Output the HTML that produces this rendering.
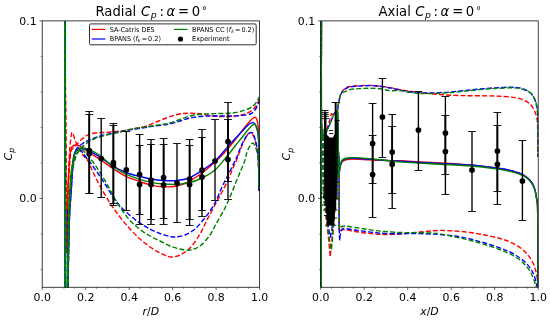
<!DOCTYPE html>
<html lang="en">
<head>
<meta charset="utf-8">
<title>Radial and Axial Cp</title>
<style>
html,body{margin:0;padding:0;background:#fff;}
body{width:550px;height:320px;overflow:hidden;}
svg{display:block;}
text{font-family:"DejaVu Sans","Liberation Sans",sans-serif;fill:#000;}
.tk{font-size:11.1px;}
.lb{font-size:11.1px;}
.tt{font-size:13.2px;}
.lg{font-size:6.8px;}
</style>
</head>
<body>
<svg width="550" height="320" viewBox="0 0 550 320">
<rect width="550" height="320" fill="#fff"/>
<defs>
<clipPath id="cl"><rect x="42.2" y="20.9" width="217.40000000000003" height="266.35"/></clipPath>
<clipPath id="cr"><rect x="320.7" y="20.9" width="217.50000000000006" height="266.35"/></clipPath>
</defs>
<g clip-path="url(#cl)">
<path d="M64.80,14.00 C64.87,36.67 65.00,114.00 65.20,150.00 C65.40,186.00 65.75,212.92 66.00,230.00 C66.25,247.08 66.58,248.75 66.70,252.50 C66.76,249.08 66.94,238.58 67.05,232.00 C67.16,225.42 67.21,219.17 67.35,213.00 C67.49,206.83 67.73,200.00 67.90,195.00 C68.08,190.00 68.13,188.83 68.40,183.00 C68.67,177.17 69.13,165.33 69.50,160.00 C69.87,154.67 70.18,153.20 70.60,151.00 C71.02,148.80 71.10,147.80 72.00,146.80 C72.90,145.80 74.67,145.10 76.00,145.00 C77.33,144.90 77.67,144.87 80.00,146.20 C82.33,147.53 86.67,150.78 90.00,153.00 C93.33,155.22 96.17,156.92 100.00,159.50 C103.83,162.08 108.67,165.70 113.00,168.50 C117.33,171.30 121.50,174.12 126.00,176.30 C130.50,178.48 135.83,180.13 140.00,181.60 C144.17,183.07 147.17,184.23 151.00,185.10 C154.83,185.97 158.67,186.65 163.00,186.80 C167.33,186.95 172.67,186.92 177.00,186.00 C181.33,185.08 184.83,183.47 189.00,181.30 C193.17,179.13 197.67,176.22 202.00,173.00 C206.33,169.78 211.17,165.50 215.00,162.00 C218.83,158.50 221.67,155.67 225.00,152.00 C228.33,148.33 231.67,144.17 235.00,140.00 C238.33,135.83 242.50,130.17 245.00,127.00 C247.50,123.83 248.67,122.47 250.00,121.00 C251.33,119.53 252.22,118.82 253.00,118.20 C253.78,117.58 254.17,117.30 254.70,117.30 C255.23,117.30 255.73,117.42 256.20,118.20 C256.67,118.98 257.13,120.03 257.50,122.00 C257.87,123.97 258.17,125.33 258.40,130.00 C258.63,134.67 258.78,139.83 258.90,150.00 C259.02,160.17 259.07,184.17 259.10,191.00" fill="none" stroke="#ff0000" stroke-width="1.4" stroke-linejoin="round"/>
<path d="M64.90,14.00 C64.95,21.67 65.05,40.67 65.20,60.00 C65.35,79.33 65.57,106.67 65.80,130.00 C66.03,153.33 66.42,179.67 66.60,200.00 C66.78,220.33 66.85,243.33 66.90,252.00 C66.93,248.67 67.02,238.50 67.10,232.00 C67.18,225.50 67.26,219.17 67.40,213.00 C67.54,206.83 67.78,200.00 67.95,195.00 C68.12,190.00 68.24,187.17 68.45,183.00 C68.66,178.83 68.91,174.17 69.20,170.00 C69.49,165.83 69.82,161.33 70.20,158.00 C70.58,154.67 70.53,152.08 71.50,150.00 C72.47,147.92 74.25,147.33 76.00,145.50 C77.75,143.67 80.00,140.78 82.00,139.00 C84.00,137.22 85.83,135.80 88.00,134.80 C90.17,133.80 92.17,133.38 95.00,133.00 C97.83,132.62 100.83,132.83 105.00,132.50 C109.17,132.17 115.00,131.67 120.00,131.00 C125.00,130.33 130.83,129.25 135.00,128.50 C139.17,127.75 141.67,127.50 145.00,126.50 C148.33,125.50 151.67,123.83 155.00,122.50 C158.33,121.17 161.67,119.75 165.00,118.50 C168.33,117.25 172.00,115.83 175.00,115.00 C178.00,114.17 180.50,113.78 183.00,113.50 C185.50,113.22 187.17,113.25 190.00,113.30 C192.83,113.35 196.67,113.43 200.00,113.80 C203.33,114.17 206.67,115.05 210.00,115.50 C213.33,115.95 216.67,116.33 220.00,116.50 C223.33,116.67 226.67,116.70 230.00,116.50 C233.33,116.30 237.33,115.80 240.00,115.30 C242.67,114.80 244.00,114.30 246.00,113.50 C248.00,112.70 250.33,111.75 252.00,110.50 C253.67,109.25 254.92,107.58 256.00,106.00 C257.08,104.42 257.90,102.50 258.50,101.00 C259.10,99.50 259.42,97.67 259.60,97.00" fill="none" stroke="#ff0000" stroke-width="1.4" stroke-dasharray="5 2.2" stroke-dashoffset="0" stroke-linejoin="round"/>
<path d="M64.90,14.00 C64.95,21.67 65.05,40.67 65.20,60.00 C65.35,79.33 65.57,106.67 65.80,130.00 C66.03,153.33 66.42,179.67 66.60,200.00 C66.78,220.33 66.85,243.33 66.90,252.00 C66.92,248.67 66.93,238.50 67.00,232.00 C67.07,225.50 67.17,219.17 67.30,213.00 C67.43,206.83 67.65,200.00 67.80,195.00 C67.95,190.00 68.05,187.17 68.20,183.00 C68.35,178.83 68.50,174.67 68.70,170.00 C68.90,165.33 69.17,159.17 69.40,155.00 C69.63,150.83 69.78,148.33 70.10,145.00 C70.42,141.67 70.93,137.08 71.30,135.00 C71.67,132.92 71.93,132.50 72.30,132.50 C72.67,132.50 73.05,133.75 73.50,135.00 C73.95,136.25 74.33,138.25 75.00,140.00 C75.67,141.75 76.17,143.00 77.50,145.50 C78.83,148.00 81.25,152.42 83.00,155.00 C84.75,157.58 86.33,158.17 88.00,161.00 C89.67,163.83 91.00,167.83 93.00,172.00 C95.00,176.17 97.17,180.83 100.00,186.00 C102.83,191.17 106.67,197.83 110.00,203.00 C113.33,208.17 116.67,212.67 120.00,217.00 C123.33,221.33 126.67,225.33 130.00,229.00 C133.33,232.67 136.67,236.00 140.00,239.00 C143.33,242.00 146.67,244.67 150.00,247.00 C153.33,249.33 157.00,251.42 160.00,253.00 C163.00,254.58 166.00,255.83 168.00,256.50 C170.00,257.17 170.00,257.25 172.00,257.00 C174.00,256.75 177.00,256.50 180.00,255.00 C183.00,253.50 186.67,251.50 190.00,248.00 C193.33,244.50 197.17,238.67 200.00,234.00 C202.83,229.33 204.50,224.83 207.00,220.00 C209.50,215.17 212.50,209.67 215.00,205.00 C217.50,200.33 219.83,196.17 222.00,192.00 C224.17,187.83 226.17,184.00 228.00,180.00 C229.83,176.00 231.50,171.50 233.00,168.00 C234.50,164.50 235.67,162.33 237.00,159.00 C238.33,155.67 239.67,151.33 241.00,148.00 C242.33,144.67 243.75,141.42 245.00,139.00 C246.25,136.58 247.42,134.50 248.50,133.50 C249.58,132.50 250.58,132.42 251.50,133.00 C252.42,133.58 253.25,135.17 254.00,137.00 C254.75,138.83 255.37,140.83 256.00,144.00 C256.63,147.17 257.33,150.83 257.80,156.00 C258.27,161.17 258.58,169.17 258.80,175.00 C259.02,180.83 259.05,188.33 259.10,191.00" fill="none" stroke="#ff0000" stroke-width="1.4" stroke-dasharray="5 2.2" stroke-dashoffset="0" stroke-linejoin="round"/>
<path d="M64.80,14.00 L65.20,293.25 L67.80,293.25 C67.90,286.04 68.15,263.04 68.40,250.00 C68.65,236.96 69.03,223.00 69.30,215.00 C69.57,207.00 69.72,207.17 70.00,202.00 C70.28,196.83 70.67,189.33 71.00,184.00 C71.33,178.67 71.53,174.67 72.00,170.00 C72.47,165.33 73.13,159.25 73.80,156.00 C74.47,152.75 75.13,151.73 76.00,150.50 C76.87,149.27 77.50,148.82 79.00,148.60 C80.50,148.38 82.83,148.55 85.00,149.20 C87.17,149.85 89.50,151.20 92.00,152.50 C94.50,153.80 96.50,154.75 100.00,157.00 C103.50,159.25 108.67,163.42 113.00,166.00 C117.33,168.58 121.50,170.75 126.00,172.50 C130.50,174.25 135.83,175.42 140.00,176.50 C144.17,177.58 147.17,178.33 151.00,179.00 C154.83,179.67 158.67,180.25 163.00,180.50 C167.33,180.75 172.67,180.92 177.00,180.50 C181.33,180.08 184.83,179.67 189.00,178.00 C193.17,176.33 197.67,173.33 202.00,170.50 C206.33,167.67 211.17,164.42 215.00,161.00 C218.83,157.58 222.17,153.17 225.00,150.00 C227.83,146.83 229.50,144.75 232.00,142.00 C234.50,139.25 237.33,136.30 240.00,133.50 C242.67,130.70 246.17,126.92 248.00,125.20 C249.83,123.48 250.17,123.63 251.00,123.20 C251.83,122.77 252.33,122.47 253.00,122.60 C253.67,122.73 254.33,122.93 255.00,124.00 C255.67,125.07 256.43,126.67 257.00,129.00 C257.57,131.33 258.08,132.83 258.40,138.00 C258.72,143.17 258.78,151.17 258.90,160.00 C259.02,168.83 259.07,185.83 259.10,191.00" fill="none" stroke="#0000ff" stroke-width="1.4" stroke-linejoin="round"/>
<path d="M64.80,14.00 L65.30,293.25 L68.00,293.25 C68.10,286.04 68.33,263.04 68.60,250.00 C68.87,236.96 69.27,223.33 69.60,215.00 C69.93,206.67 70.25,205.17 70.60,200.00 C70.95,194.83 71.37,189.00 71.70,184.00 C72.03,179.00 72.22,174.33 72.60,170.00 C72.98,165.67 73.43,161.37 74.00,158.00 C74.57,154.63 74.67,152.13 76.00,149.80 C77.33,147.47 80.00,145.53 82.00,144.00 C84.00,142.47 85.00,141.93 88.00,140.60 C91.00,139.27 95.50,137.30 100.00,136.00 C104.50,134.70 110.83,133.67 115.00,132.80 C119.17,131.93 121.67,131.43 125.00,130.80 C128.33,130.17 131.67,129.55 135.00,129.00 C138.33,128.45 141.67,128.00 145.00,127.50 C148.33,127.00 151.67,126.45 155.00,126.00 C158.33,125.55 162.50,125.13 165.00,124.80 C167.50,124.47 167.50,124.63 170.00,124.00 C172.50,123.37 176.67,122.00 180.00,121.00 C183.33,120.00 186.67,118.75 190.00,118.00 C193.33,117.25 196.67,116.83 200.00,116.50 C203.33,116.17 206.67,116.08 210.00,116.00 C213.33,115.92 216.67,116.00 220.00,116.00 C223.33,116.00 226.67,116.07 230.00,116.00 C233.33,115.93 236.67,115.93 240.00,115.60 C243.33,115.27 247.50,114.93 250.00,114.00 C252.50,113.07 253.67,111.58 255.00,110.00 C256.33,108.42 257.27,106.00 258.00,104.50 C258.73,103.00 259.17,101.58 259.40,101.00" fill="none" stroke="#0000ff" stroke-width="1.4" stroke-dasharray="5 2.2" stroke-dashoffset="0" stroke-linejoin="round"/>
<path d="M64.80,14.00 L65.30,293.25 L67.20,293.25 L67.60,208.50 L68.00,293.25 C68.10,286.04 68.33,263.04 68.60,250.00 C68.87,236.96 69.27,223.33 69.60,215.00 C69.93,206.67 70.25,205.17 70.60,200.00 C70.95,194.83 71.33,189.33 71.70,184.00 C72.07,178.67 72.33,172.67 72.80,168.00 C73.27,163.33 73.88,158.92 74.50,156.00 C75.12,153.08 75.92,151.67 76.50,150.50 C77.08,149.33 77.42,149.12 78.00,149.00 C78.58,148.88 79.17,149.13 80.00,149.80 C80.83,150.47 81.67,151.30 83.00,153.00 C84.33,154.70 86.67,158.25 88.00,160.00 C89.33,161.75 89.50,161.50 91.00,163.50 C92.50,165.50 94.67,168.58 97.00,172.00 C99.33,175.42 102.33,179.83 105.00,184.00 C107.67,188.17 110.50,193.33 113.00,197.00 C115.50,200.67 117.17,202.92 120.00,206.00 C122.83,209.08 126.67,212.67 130.00,215.50 C133.33,218.33 136.67,220.75 140.00,223.00 C143.33,225.25 146.67,227.25 150.00,229.00 C153.33,230.75 156.67,232.25 160.00,233.50 C163.33,234.75 167.50,235.92 170.00,236.50 C172.50,237.08 172.50,237.25 175.00,237.00 C177.50,236.75 181.67,236.33 185.00,235.00 C188.33,233.67 191.83,231.67 195.00,229.00 C198.17,226.33 201.50,222.00 204.00,219.00 C206.50,216.00 208.00,214.00 210.00,211.00 C212.00,208.00 214.00,205.00 216.00,201.00 C218.00,197.00 220.00,191.33 222.00,187.00 C224.00,182.67 226.00,179.00 228.00,175.00 C230.00,171.00 232.67,165.67 234.00,163.00 C235.33,160.33 235.00,161.33 236.00,159.00 C237.00,156.67 238.67,152.17 240.00,149.00 C241.33,145.83 242.67,142.42 244.00,140.00 C245.33,137.58 246.83,135.75 248.00,134.50 C249.17,133.25 250.08,132.58 251.00,132.50 C251.92,132.42 252.83,132.92 253.50,134.00 C254.17,135.08 254.50,137.17 255.00,139.00 C255.50,140.83 256.00,142.17 256.50,145.00 C257.00,147.83 257.60,151.00 258.00,156.00 C258.40,161.00 258.72,169.08 258.90,175.00 C259.08,180.92 259.07,188.75 259.10,191.50" fill="none" stroke="#0000ff" stroke-width="1.4" stroke-dasharray="5 2.2" stroke-dashoffset="0" stroke-linejoin="round"/>
<path d="M64.75,14.00 L65.00,293.25 L67.30,293.25 C67.40,286.04 67.68,263.04 67.90,250.00 C68.12,236.96 68.40,223.33 68.60,215.00 C68.80,206.67 68.83,205.17 69.10,200.00 C69.37,194.83 69.85,188.67 70.20,184.00 C70.55,179.33 70.70,176.00 71.20,172.00 C71.70,168.00 72.52,163.17 73.20,160.00 C73.88,156.83 74.50,154.73 75.30,153.00 C76.10,151.27 77.22,150.33 78.00,149.60 C78.78,148.87 79.00,148.87 80.00,148.60 C81.00,148.33 82.33,147.77 84.00,148.00 C85.67,148.23 87.33,148.75 90.00,150.00 C92.67,151.25 96.17,152.75 100.00,155.50 C103.83,158.25 108.67,163.38 113.00,166.50 C117.33,169.62 121.50,172.05 126.00,174.20 C130.50,176.35 135.83,178.03 140.00,179.40 C144.17,180.77 147.17,181.63 151.00,182.40 C154.83,183.17 158.67,183.67 163.00,184.00 C167.33,184.33 172.67,184.60 177.00,184.40 C181.33,184.20 184.83,183.87 189.00,182.80 C193.17,181.73 197.67,180.13 202.00,178.00 C206.33,175.87 210.67,173.83 215.00,170.00 C219.33,166.17 224.67,159.00 228.00,155.00 C231.33,151.00 232.67,148.92 235.00,146.00 C237.33,143.08 240.00,140.00 242.00,137.50 C244.00,135.00 245.50,132.83 247.00,131.00 C248.50,129.17 249.92,127.57 251.00,126.50 C252.08,125.43 252.83,124.93 253.50,124.60 C254.17,124.27 254.50,124.10 255.00,124.50 C255.50,124.90 256.00,125.58 256.50,127.00 C257.00,128.42 257.60,129.83 258.00,133.00 C258.40,136.17 258.72,136.83 258.90,146.00 C259.08,155.17 259.07,181.00 259.10,188.00" fill="none" stroke="#008000" stroke-width="1.4" stroke-linejoin="round"/>
<path d="M64.90,14.00 C64.98,33.33 65.23,83.46 65.35,130.00 C65.47,176.54 65.56,266.04 65.60,293.25 L68.00,293.25 C68.10,286.04 68.37,263.04 68.60,250.00 C68.83,236.96 69.17,223.33 69.40,215.00 C69.63,206.67 69.73,205.17 70.00,200.00 C70.27,194.83 70.67,188.67 71.00,184.00 C71.33,179.33 71.53,175.33 72.00,172.00 C72.47,168.67 73.05,166.83 73.80,164.00 C74.55,161.17 75.47,157.42 76.50,155.00 C77.53,152.58 78.58,151.25 80.00,149.50 C81.42,147.75 82.50,146.33 85.00,144.50 C87.50,142.67 90.83,140.20 95.00,138.50 C99.17,136.80 105.83,135.38 110.00,134.30 C114.17,133.22 117.50,132.63 120.00,132.00 C122.50,131.37 122.50,131.08 125.00,130.50 C127.50,129.92 131.67,129.08 135.00,128.50 C138.33,127.92 141.67,127.50 145.00,127.00 C148.33,126.50 151.67,126.00 155.00,125.50 C158.33,125.00 162.50,124.42 165.00,124.00 C167.50,123.58 167.50,123.75 170.00,123.00 C172.50,122.25 176.67,120.67 180.00,119.50 C183.33,118.33 186.67,116.87 190.00,116.00 C193.33,115.13 196.67,114.67 200.00,114.30 C203.33,113.93 206.67,113.93 210.00,113.80 C213.33,113.67 216.67,113.58 220.00,113.50 C223.33,113.42 226.67,113.63 230.00,113.30 C233.33,112.97 236.67,112.38 240.00,111.50 C243.33,110.62 247.50,109.25 250.00,108.00 C252.50,106.75 253.67,105.42 255.00,104.00 C256.33,102.58 257.23,100.75 258.00,99.50 C258.77,98.25 259.33,97.00 259.60,96.50" fill="none" stroke="#008000" stroke-width="1.4" stroke-dasharray="5 2.2" stroke-dashoffset="3.6" stroke-linejoin="round"/>
<path d="M64.90,14.00 C64.98,33.33 65.23,83.46 65.35,130.00 C65.47,176.54 65.56,266.04 65.60,293.25 L68.00,293.25 C68.10,286.04 68.37,263.04 68.60,250.00 C68.83,236.96 69.17,223.33 69.40,215.00 C69.63,206.67 69.73,205.17 70.00,200.00 C70.27,194.83 70.63,189.00 71.00,184.00 C71.37,179.00 71.70,173.67 72.20,170.00 C72.70,166.33 73.37,164.50 74.00,162.00 C74.63,159.50 75.17,156.83 76.00,155.00 C76.83,153.17 78.17,151.87 79.00,151.00 C79.83,150.13 80.33,149.93 81.00,149.80 C81.67,149.67 81.83,149.17 83.00,150.20 C84.17,151.23 86.33,154.03 88.00,156.00 C89.67,157.97 91.17,159.50 93.00,162.00 C94.83,164.50 96.67,167.33 99.00,171.00 C101.33,174.67 104.33,179.33 107.00,184.00 C109.67,188.67 112.50,194.67 115.00,199.00 C117.50,203.33 119.50,206.42 122.00,210.00 C124.50,213.58 127.00,217.25 130.00,220.50 C133.00,223.75 136.67,226.92 140.00,229.50 C143.33,232.08 146.67,234.08 150.00,236.00 C153.33,237.92 156.67,239.33 160.00,241.00 C163.33,242.67 166.67,244.67 170.00,246.00 C173.33,247.33 176.67,248.33 180.00,249.00 C183.33,249.67 186.67,250.50 190.00,250.00 C193.33,249.50 196.67,248.50 200.00,246.00 C203.33,243.50 207.33,238.67 210.00,235.00 C212.67,231.33 213.67,228.17 216.00,224.00 C218.33,219.83 221.67,214.50 224.00,210.00 C226.33,205.50 228.00,201.67 230.00,197.00 C232.00,192.33 234.17,186.50 236.00,182.00 C237.83,177.50 239.50,173.67 241.00,170.00 C242.50,166.33 244.00,163.00 245.00,160.00 C246.00,157.00 246.17,154.33 247.00,152.00 C247.83,149.67 249.00,147.50 250.00,146.00 C251.00,144.50 252.17,143.00 253.00,143.00 C253.83,143.00 254.33,144.50 255.00,146.00 C255.67,147.50 256.43,149.33 257.00,152.00 C257.57,154.67 258.05,156.33 258.40,162.00 C258.75,167.67 258.98,182.00 259.10,186.00" fill="none" stroke="#008000" stroke-width="1.4" stroke-dasharray="5 2.2" stroke-dashoffset="3.6" stroke-linejoin="round"/>
</g>
<path d="M89.3,111.0V193.3" stroke="#000000" stroke-width="1.35" fill="none"/>
<path d="M85.4,111.5H93.2" stroke="#000000" stroke-width="0.9" fill="none"/>
<path d="M85.4,193.5H93.2" stroke="#000000" stroke-width="0.9" fill="none"/>
<path d="M89.3,114.0V193.3" stroke="#000000" stroke-width="1.35" fill="none"/>
<path d="M85.4,114.5H93.2" stroke="#000000" stroke-width="0.9" fill="none"/>
<path d="M85.4,193.5H93.2" stroke="#000000" stroke-width="0.9" fill="none"/>
<path d="M89.3,114.0V193.3" stroke="#000" stroke-width="1.7"/>
<circle cx="89.3" cy="150.6" r="2.85" fill="#000000"/>
<circle cx="89.3" cy="153.6" r="2.85" fill="#000000"/>
<path d="M101.2,118.8V197.8" stroke="#000000" stroke-width="1.35" fill="none"/>
<path d="M97.3,118.5H105.1" stroke="#000000" stroke-width="0.9" fill="none"/>
<path d="M97.3,197.5H105.1" stroke="#000000" stroke-width="0.9" fill="none"/>
<circle cx="101.2" cy="158.6" r="2.85" fill="#000000"/>
<path d="M113.4,123.3V203.5" stroke="#000000" stroke-width="1.35" fill="none"/>
<path d="M109.5,123.5H117.3" stroke="#000000" stroke-width="0.9" fill="none"/>
<path d="M109.5,203.5H117.3" stroke="#000000" stroke-width="0.9" fill="none"/>
<path d="M113.4,125.5V205.2" stroke="#000000" stroke-width="1.35" fill="none"/>
<path d="M109.5,125.5H117.3" stroke="#000000" stroke-width="0.9" fill="none"/>
<path d="M109.5,205.5H117.3" stroke="#000000" stroke-width="0.9" fill="none"/>
<path d="M113.4,125.5V203.5" stroke="#000" stroke-width="1.7"/>
<circle cx="113.4" cy="162.6" r="2.85" fill="#000000"/>
<circle cx="113.4" cy="165.6" r="2.85" fill="#000000"/>
<path d="M126.3,131.0V210.0" stroke="#000000" stroke-width="1.35" fill="none"/>
<path d="M122.4,131.5H130.2" stroke="#000000" stroke-width="0.9" fill="none"/>
<path d="M122.4,210.5H130.2" stroke="#000000" stroke-width="0.9" fill="none"/>
<circle cx="126.3" cy="169.8" r="2.85" fill="#000000"/>
<path d="M139.6,134.4V214.4" stroke="#000000" stroke-width="1.35" fill="none"/>
<path d="M135.7,134.5H143.5" stroke="#000000" stroke-width="0.9" fill="none"/>
<path d="M135.7,214.5H143.5" stroke="#000000" stroke-width="0.9" fill="none"/>
<path d="M139.6,145.0V224.0" stroke="#000000" stroke-width="1.35" fill="none"/>
<path d="M135.7,145.5H143.5" stroke="#000000" stroke-width="0.9" fill="none"/>
<path d="M135.7,224.5H143.5" stroke="#000000" stroke-width="0.9" fill="none"/>
<path d="M139.6,145.0V214.4" stroke="#000" stroke-width="1.7"/>
<circle cx="139.6" cy="174.5" r="2.85" fill="#000000"/>
<circle cx="139.6" cy="184.5" r="2.85" fill="#000000"/>
<path d="M151.0,139.6V219.0" stroke="#000000" stroke-width="1.35" fill="none"/>
<path d="M147.1,139.5H154.9" stroke="#000000" stroke-width="0.9" fill="none"/>
<path d="M147.1,219.5H154.9" stroke="#000000" stroke-width="0.9" fill="none"/>
<path d="M151.0,144.0V224.0" stroke="#000000" stroke-width="1.35" fill="none"/>
<path d="M147.1,144.5H154.9" stroke="#000000" stroke-width="0.9" fill="none"/>
<path d="M147.1,224.5H154.9" stroke="#000000" stroke-width="0.9" fill="none"/>
<path d="M151.0,144.0V219.0" stroke="#000" stroke-width="1.7"/>
<circle cx="151.0" cy="180.0" r="2.85" fill="#000000"/>
<circle cx="151.0" cy="184.5" r="2.85" fill="#000000"/>
<path d="M163.6,138.6V218.6" stroke="#000000" stroke-width="1.35" fill="none"/>
<path d="M159.7,138.5H167.5" stroke="#000000" stroke-width="0.9" fill="none"/>
<path d="M159.7,218.5H167.5" stroke="#000000" stroke-width="0.9" fill="none"/>
<path d="M163.6,144.4V224.0" stroke="#000000" stroke-width="1.35" fill="none"/>
<path d="M159.7,144.5H167.5" stroke="#000000" stroke-width="0.9" fill="none"/>
<path d="M159.7,224.5H167.5" stroke="#000000" stroke-width="0.9" fill="none"/>
<path d="M163.6,144.4V218.6" stroke="#000" stroke-width="1.7"/>
<circle cx="163.6" cy="177.5" r="2.85" fill="#000000"/>
<circle cx="163.6" cy="185.0" r="2.85" fill="#000000"/>
<path d="M177.0,143.4V222.4" stroke="#000000" stroke-width="1.35" fill="none"/>
<path d="M173.1,143.5H180.9" stroke="#000000" stroke-width="0.9" fill="none"/>
<path d="M173.1,222.5H180.9" stroke="#000000" stroke-width="0.9" fill="none"/>
<circle cx="177.0" cy="183.0" r="2.85" fill="#000000"/>
<path d="M189.6,139.6V219.0" stroke="#000000" stroke-width="1.35" fill="none"/>
<path d="M185.7,139.5H193.5" stroke="#000000" stroke-width="0.9" fill="none"/>
<path d="M185.7,219.5H193.5" stroke="#000000" stroke-width="0.9" fill="none"/>
<path d="M189.6,145.0V225.4" stroke="#000000" stroke-width="1.35" fill="none"/>
<path d="M185.7,145.5H193.5" stroke="#000000" stroke-width="0.9" fill="none"/>
<path d="M185.7,225.5H193.5" stroke="#000000" stroke-width="0.9" fill="none"/>
<path d="M189.6,145.0V219.0" stroke="#000" stroke-width="1.7"/>
<circle cx="189.6" cy="179.0" r="2.85" fill="#000000"/>
<circle cx="189.6" cy="184.5" r="2.85" fill="#000000"/>
<path d="M202.0,129.6V210.0" stroke="#000000" stroke-width="1.35" fill="none"/>
<path d="M198.1,129.5H205.9" stroke="#000000" stroke-width="0.9" fill="none"/>
<path d="M198.1,210.5H205.9" stroke="#000000" stroke-width="0.9" fill="none"/>
<path d="M202.0,137.0V216.6" stroke="#000000" stroke-width="1.35" fill="none"/>
<path d="M198.1,137.5H205.9" stroke="#000000" stroke-width="0.9" fill="none"/>
<path d="M198.1,216.5H205.9" stroke="#000000" stroke-width="0.9" fill="none"/>
<path d="M202.0,137.0V210.0" stroke="#000" stroke-width="1.7"/>
<circle cx="202.0" cy="170.0" r="2.85" fill="#000000"/>
<circle cx="202.0" cy="177.0" r="2.85" fill="#000000"/>
<path d="M215.0,119.8V200.0" stroke="#000000" stroke-width="1.35" fill="none"/>
<path d="M211.1,119.5H218.9" stroke="#000000" stroke-width="0.9" fill="none"/>
<path d="M211.1,200.5H218.9" stroke="#000000" stroke-width="0.9" fill="none"/>
<circle cx="215.0" cy="161.0" r="2.85" fill="#000000"/>
<path d="M228.0,102.4V181.4" stroke="#000000" stroke-width="1.35" fill="none"/>
<path d="M224.1,102.5H231.9" stroke="#000000" stroke-width="0.9" fill="none"/>
<path d="M224.1,181.5H231.9" stroke="#000000" stroke-width="0.9" fill="none"/>
<path d="M228.0,119.6V199.0" stroke="#000000" stroke-width="1.35" fill="none"/>
<path d="M224.1,119.5H231.9" stroke="#000000" stroke-width="0.9" fill="none"/>
<path d="M224.1,199.5H231.9" stroke="#000000" stroke-width="0.9" fill="none"/>
<path d="M228.0,119.6V181.4" stroke="#000" stroke-width="1.7"/>
<circle cx="228.0" cy="141.5" r="2.85" fill="#000000"/>
<circle cx="228.0" cy="159.5" r="2.85" fill="#000000"/>
<g clip-path="url(#cr)">
<path d="M321.20,293.25 L321.20,14.00 L321.40,14.00 C321.40,33.00 321.22,108.00 321.40,128.00 C321.58,148.00 321.93,132.00 322.50,134.00 C323.07,136.00 324.35,137.33 324.80,140.00 C325.25,142.67 324.33,147.33 325.20,150.00 C326.07,152.67 328.28,156.00 330.00,156.00 C331.72,156.00 334.53,155.17 335.50,150.00 C336.47,144.83 335.63,131.17 335.80,125.00 C335.97,118.83 336.22,115.25 336.50,113.00 C336.78,110.75 337.33,111.75 337.50,111.50 C337.55,114.58 337.67,123.58 337.80,130.00 C337.93,136.42 338.12,144.17 338.30,150.00 C338.48,155.83 338.78,160.67 338.90,165.00 C339.02,169.33 338.98,174.17 339.00,176.00 C339.12,174.83 339.43,170.78 339.70,169.00 C339.97,167.22 340.18,166.50 340.60,165.30 C341.02,164.10 341.47,162.68 342.20,161.80 C342.93,160.92 343.70,160.43 345.00,160.00 C346.30,159.57 347.50,159.30 350.00,159.20 C352.50,159.10 355.00,159.20 360.00,159.40 C365.00,159.60 373.33,160.17 380.00,160.40 C386.67,160.63 393.33,160.53 400.00,160.80 C406.67,161.07 413.33,161.63 420.00,162.00 C426.67,162.37 433.33,162.65 440.00,163.00 C446.67,163.35 453.33,163.62 460.00,164.12 C466.67,164.62 473.33,165.27 480.00,166.00 C486.67,166.73 495.00,167.75 500.00,168.50 C505.00,169.25 506.67,169.67 510.00,170.50 C513.33,171.33 517.17,172.33 520.00,173.50 C522.83,174.67 525.00,175.92 527.00,177.50 C529.00,179.08 530.67,180.92 532.00,183.00 C533.33,185.08 534.20,187.17 535.00,190.00 C535.80,192.83 536.35,196.00 536.80,200.00 C537.25,204.00 537.49,198.46 537.70,214.00 C537.91,229.54 537.99,280.04 538.05,293.25" fill="none" stroke="#ff0000" stroke-width="1.4" stroke-linejoin="round"/>
<path d="M321.20,293.25 L321.20,14.00 L321.40,14.00 C321.40,33.00 321.22,108.00 321.40,128.00 C321.58,148.00 321.98,132.67 322.50,134.00 C323.02,135.33 323.92,136.50 324.50,136.00 C325.08,135.50 325.58,132.25 326.00,131.00 C326.42,129.75 326.45,130.00 327.00,128.50 C327.55,127.00 328.58,124.42 329.30,122.00 C330.02,119.58 330.77,115.25 331.30,114.00 C331.83,112.75 332.05,114.60 332.50,114.50 C332.95,114.40 333.33,113.82 334.00,113.40 C334.67,112.98 335.90,112.57 336.50,112.00 C337.10,111.43 337.25,111.50 337.60,110.00 C337.95,108.50 338.23,105.08 338.60,103.00 C338.97,100.92 339.37,99.17 339.80,97.50 C340.23,95.83 340.33,94.50 341.20,93.00 C342.07,91.50 343.53,89.58 345.00,88.50 C346.47,87.42 347.50,86.98 350.00,86.50 C352.50,86.02 356.67,85.78 360.00,85.60 C363.33,85.42 366.67,85.30 370.00,85.40 C373.33,85.50 376.67,85.83 380.00,86.20 C383.33,86.57 386.67,87.03 390.00,87.60 C393.33,88.17 396.67,89.00 400.00,89.60 C403.33,90.20 406.67,90.70 410.00,91.20 C413.33,91.70 416.67,92.20 420.00,92.60 C423.33,93.00 426.67,93.28 430.00,93.60 C433.33,93.92 436.67,94.23 440.00,94.50 C443.33,94.77 446.67,95.02 450.00,95.20 C453.33,95.38 456.67,95.52 460.00,95.60 C463.33,95.68 465.00,95.65 470.00,95.70 C475.00,95.75 485.00,95.80 490.00,95.90 C495.00,96.00 496.67,96.12 500.00,96.30 C503.33,96.48 507.50,96.78 510.00,97.00 C512.50,97.22 513.33,97.32 515.00,97.60 C516.67,97.88 518.33,98.20 520.00,98.70 C521.67,99.20 523.33,99.72 525.00,100.60 C526.67,101.48 528.67,102.77 530.00,104.00 C531.33,105.23 532.17,106.67 533.00,108.00 C533.83,109.33 534.40,110.50 535.00,112.00 C535.60,113.50 536.17,114.67 536.60,117.00 C537.03,119.33 537.37,119.33 537.60,126.00 C537.83,132.67 537.93,151.83 538.00,157.00" fill="none" stroke="#ff0000" stroke-width="1.4" stroke-dasharray="5 2.2" stroke-dashoffset="0" stroke-linejoin="round"/>
<path d="M321.20,293.25 L321.20,14.00 L321.40,14.00 C321.40,31.33 321.20,98.67 321.40,118.00 C321.60,137.33 322.32,123.00 322.60,130.00 C322.88,137.00 322.98,150.83 323.10,160.00 C323.22,169.17 323.18,178.83 323.30,185.00 C323.42,191.17 323.52,193.17 323.80,197.00 C324.08,200.83 324.47,203.33 325.00,208.00 C325.53,212.67 326.33,219.17 327.00,225.00 C327.67,230.83 328.47,237.70 329.00,243.00 C329.53,248.30 330.00,254.50 330.20,256.80 C330.40,254.83 330.97,249.47 331.40,245.00 C331.83,240.53 332.32,235.00 332.80,230.00 C333.28,225.00 333.77,221.67 334.30,215.00 C334.83,208.33 335.47,200.83 336.00,190.00 C336.53,179.17 337.30,162.67 337.50,150.00 C337.70,137.33 337.20,120.33 337.20,114.00 C337.20,107.67 337.45,112.33 337.50,112.00 C337.55,115.00 337.67,123.67 337.80,130.00 C337.93,136.33 338.10,144.17 338.30,150.00 C338.50,155.83 338.87,156.67 339.00,165.00 C339.13,173.33 339.08,189.00 339.10,200.00 C339.12,211.00 339.10,225.83 339.10,231.00 C339.25,231.00 339.52,231.17 340.00,231.00 C340.48,230.83 341.17,230.23 342.00,230.00 C342.83,229.77 342.83,229.35 345.00,229.60 C347.17,229.85 351.67,230.93 355.00,231.50 C358.33,232.07 361.67,232.58 365.00,233.00 C368.33,233.42 371.67,233.75 375.00,234.00 C378.33,234.25 380.83,234.50 385.00,234.50 C389.17,234.50 395.83,234.25 400.00,234.00 C404.17,233.75 406.67,233.33 410.00,233.00 C413.33,232.67 416.67,232.33 420.00,232.00 C423.33,231.67 426.67,231.27 430.00,231.00 C433.33,230.73 435.83,230.40 440.00,230.40 C444.17,230.40 450.00,230.65 455.00,231.00 C460.00,231.35 465.00,231.83 470.00,232.50 C475.00,233.17 480.00,234.00 485.00,235.00 C490.00,236.00 495.83,237.33 500.00,238.50 C504.17,239.67 506.67,240.50 510.00,242.00 C513.33,243.50 517.17,245.50 520.00,247.50 C522.83,249.50 525.00,251.75 527.00,254.00 C529.00,256.25 530.67,258.67 532.00,261.00 C533.33,263.33 534.17,265.33 535.00,268.00 C535.83,270.67 536.53,273.83 537.00,277.00 C537.47,280.17 537.67,285.33 537.80,287.00" fill="none" stroke="#ff0000" stroke-width="1.4" stroke-dasharray="5 2.2" stroke-dashoffset="0" stroke-linejoin="round"/>
<path d="M321.20,293.25 L321.20,14.00 L321.40,14.00 C321.40,33.00 321.22,108.00 321.40,128.00 C321.58,148.00 321.93,132.00 322.50,134.00 C323.07,136.00 324.35,137.33 324.80,140.00 C325.25,142.67 324.33,147.33 325.20,150.00 C326.07,152.67 328.28,156.00 330.00,156.00 C331.72,156.00 334.53,155.17 335.50,150.00 C336.47,144.83 335.63,131.17 335.80,125.00 C335.97,118.83 336.22,115.25 336.50,113.00 C336.78,110.75 337.33,111.75 337.50,111.50 C337.55,114.58 337.67,123.58 337.80,130.00 C337.93,136.42 338.12,144.17 338.30,150.00 C338.48,155.83 338.78,160.67 338.90,165.00 C339.02,169.33 338.98,174.17 339.00,176.00 C339.12,174.83 339.43,170.92 339.70,169.00 C339.97,167.08 340.18,165.83 340.60,164.50 C341.02,163.17 341.47,161.88 342.20,161.00 C342.93,160.12 343.70,159.63 345.00,159.20 C346.30,158.77 347.50,158.50 350.00,158.40 C352.50,158.30 355.00,158.33 360.00,158.60 C365.00,158.87 373.33,159.55 380.00,160.00 C386.67,160.45 393.33,160.88 400.00,161.30 C406.67,161.72 413.33,162.13 420.00,162.50 C426.67,162.87 433.33,163.17 440.00,163.50 C446.67,163.83 453.33,164.08 460.00,164.50 C466.67,164.92 473.33,165.33 480.00,166.00 C486.67,166.67 495.00,167.75 500.00,168.50 C505.00,169.25 506.67,169.67 510.00,170.50 C513.33,171.33 517.17,172.33 520.00,173.50 C522.83,174.67 525.00,175.92 527.00,177.50 C529.00,179.08 530.67,180.92 532.00,183.00 C533.33,185.08 534.20,187.17 535.00,190.00 C535.80,192.83 536.35,196.00 536.80,200.00 C537.25,204.00 537.49,198.46 537.70,214.00 C537.91,229.54 537.99,280.04 538.05,293.25" fill="none" stroke="#0000ff" stroke-width="1.4" stroke-linejoin="round"/>
<path d="M321.20,293.25 L321.20,14.00 L321.40,14.00 C321.40,33.00 321.22,108.00 321.40,128.00 C321.58,148.00 321.98,132.50 322.50,134.00 C323.02,135.50 323.92,137.17 324.50,137.00 C325.08,136.83 325.58,134.08 326.00,133.00 C326.42,131.92 326.42,131.83 327.00,130.50 C327.58,129.17 328.70,126.82 329.50,125.00 C330.30,123.18 331.13,121.27 331.80,119.60 C332.47,117.93 332.97,116.13 333.50,115.00 C334.03,113.87 334.50,113.30 335.00,112.80 C335.50,112.30 336.07,112.47 336.50,112.00 C336.93,111.53 337.25,111.50 337.60,110.00 C337.95,108.50 338.23,105.08 338.60,103.00 C338.97,100.92 339.37,99.08 339.80,97.50 C340.23,95.92 340.33,94.92 341.20,93.50 C342.07,92.08 343.53,90.08 345.00,89.00 C346.47,87.92 347.50,87.50 350.00,87.00 C352.50,86.50 356.67,86.23 360.00,86.00 C363.33,85.77 366.67,85.57 370.00,85.60 C373.33,85.63 376.67,85.80 380.00,86.20 C383.33,86.60 386.67,87.37 390.00,88.00 C393.33,88.63 396.67,89.37 400.00,90.00 C403.33,90.63 406.67,91.33 410.00,91.80 C413.33,92.27 416.67,92.60 420.00,92.80 C423.33,93.00 426.67,93.03 430.00,93.00 C433.33,92.97 436.67,92.77 440.00,92.60 C443.33,92.43 446.67,92.27 450.00,92.00 C453.33,91.73 456.67,91.33 460.00,91.00 C463.33,90.67 466.67,90.33 470.00,90.00 C473.33,89.67 476.67,89.30 480.00,89.00 C483.33,88.70 486.67,88.43 490.00,88.20 C493.33,87.97 496.67,87.77 500.00,87.60 C503.33,87.43 507.50,87.25 510.00,87.20 C512.50,87.15 513.33,87.17 515.00,87.30 C516.67,87.43 518.33,87.62 520.00,88.00 C521.67,88.38 523.33,88.85 525.00,89.60 C526.67,90.35 528.67,91.43 530.00,92.50 C531.33,93.57 532.17,94.75 533.00,96.00 C533.83,97.25 534.42,98.50 535.00,100.00 C535.58,101.50 536.08,103.00 536.50,105.00 C536.92,107.00 537.27,109.17 537.50,112.00 C537.73,114.83 537.82,114.50 537.90,122.00 C537.98,129.50 537.98,151.17 538.00,157.00" fill="none" stroke="#0000ff" stroke-width="1.4" stroke-dasharray="5 2.2" stroke-dashoffset="3.6" stroke-linejoin="round"/>
<path d="M321.20,293.25 L321.20,14.00 L321.40,14.00 C321.40,31.33 321.20,98.67 321.40,118.00 C321.60,137.33 322.32,123.00 322.60,130.00 C322.88,137.00 322.97,150.33 323.10,160.00 C323.23,169.67 323.22,181.33 323.40,188.00 C323.58,194.67 323.85,196.67 324.20,200.00 C324.55,203.33 324.95,204.33 325.50,208.00 C326.05,211.67 326.87,218.00 327.50,222.00 C328.13,226.00 328.82,229.50 329.30,232.00 C329.78,234.50 330.22,236.17 330.40,237.00 C330.57,236.17 331.00,234.50 331.40,232.00 C331.80,229.50 332.32,225.67 332.80,222.00 C333.28,218.33 333.77,215.33 334.30,210.00 C334.83,204.67 335.47,200.00 336.00,190.00 C336.53,180.00 337.30,162.67 337.50,150.00 C337.70,137.33 337.20,120.33 337.20,114.00 C337.20,107.67 337.45,112.33 337.50,112.00 C337.55,115.00 337.67,123.67 337.80,130.00 C337.93,136.33 338.10,144.17 338.30,150.00 C338.50,155.83 338.87,156.67 339.00,165.00 C339.13,173.33 339.08,190.00 339.10,200.00 C339.12,210.00 339.00,218.25 339.10,225.00 C339.20,231.75 339.60,237.92 339.70,240.50 C339.82,239.42 340.10,235.75 340.40,234.00 C340.70,232.25 341.07,230.90 341.50,230.00 C341.93,229.10 342.42,228.85 343.00,228.60 C343.58,228.35 343.00,228.27 345.00,228.50 C347.00,228.73 351.67,229.50 355.00,230.00 C358.33,230.50 361.67,231.07 365.00,231.50 C368.33,231.93 371.67,232.27 375.00,232.60 C378.33,232.93 380.83,233.30 385.00,233.50 C389.17,233.70 395.00,233.80 400.00,233.80 C405.00,233.80 410.00,233.47 415.00,233.50 C420.00,233.53 425.83,233.82 430.00,234.00 C434.17,234.18 435.83,234.27 440.00,234.60 C444.17,234.93 450.00,235.27 455.00,236.00 C460.00,236.73 465.00,237.83 470.00,239.00 C475.00,240.17 480.00,241.50 485.00,243.00 C490.00,244.50 495.83,246.50 500.00,248.00 C504.17,249.50 506.67,250.33 510.00,252.00 C513.33,253.67 517.17,256.00 520.00,258.00 C522.83,260.00 525.00,261.83 527.00,264.00 C529.00,266.17 530.67,268.67 532.00,271.00 C533.33,273.33 534.17,275.33 535.00,278.00 C535.83,280.67 536.67,285.50 537.00,287.00" fill="none" stroke="#0000ff" stroke-width="1.4" stroke-dasharray="5 2.2" stroke-dashoffset="0" stroke-linejoin="round"/>
<path d="M321.20,293.25 L321.20,14.00 L321.40,14.00 C321.40,33.00 321.22,108.00 321.40,128.00 C321.58,148.00 321.93,132.00 322.50,134.00 C323.07,136.00 324.35,137.33 324.80,140.00 C325.25,142.67 324.33,147.33 325.20,150.00 C326.07,152.67 328.28,156.00 330.00,156.00 C331.72,156.00 334.53,155.17 335.50,150.00 C336.47,144.83 335.63,131.17 335.80,125.00 C335.97,118.83 336.22,115.25 336.50,113.00 C336.78,110.75 337.33,111.75 337.50,111.50 C337.55,114.58 337.67,123.58 337.80,130.00 C337.93,136.42 338.12,144.17 338.30,150.00 C338.48,155.83 338.78,160.67 338.90,165.00 C339.02,169.33 338.98,174.17 339.00,176.00 C339.12,174.83 339.43,171.03 339.70,169.00 C339.97,166.97 340.18,165.25 340.60,163.80 C341.02,162.35 341.47,161.18 342.20,160.30 C342.93,159.42 343.70,158.93 345.00,158.50 C346.30,158.07 347.50,157.80 350.00,157.70 C352.50,157.60 355.00,157.56 360.00,157.90 C365.00,158.24 373.33,159.10 380.00,159.77 C386.67,160.43 393.33,161.34 400.00,161.90 C406.67,162.46 413.33,162.77 420.00,163.15 C426.67,163.53 433.33,163.85 440.00,164.20 C446.67,164.55 453.33,164.82 460.00,165.25 C466.67,165.68 473.33,166.12 480.00,166.80 C486.67,167.48 495.00,168.59 500.00,169.35 C505.00,170.11 506.67,170.53 510.00,171.38 C513.33,172.22 517.17,173.25 520.00,174.40 C522.83,175.55 525.00,176.72 527.00,178.26 C529.00,179.80 530.67,181.60 532.00,183.66 C533.33,185.72 534.20,187.81 535.00,190.60 C535.80,193.39 536.35,196.44 536.80,200.38 C537.25,204.33 537.49,198.76 537.70,214.28 C537.91,229.79 537.99,280.28 538.05,293.48" fill="none" stroke="#008000" stroke-width="1.4" stroke-linejoin="round"/>
<path d="M321.20,293.25 L321.20,14.00 L321.40,14.00 C321.40,33.00 321.22,108.00 321.40,128.00 C321.58,148.00 321.98,132.50 322.50,134.00 C323.02,135.50 323.92,137.17 324.50,137.00 C325.08,136.83 325.58,134.08 326.00,133.00 C326.42,131.92 326.42,131.83 327.00,130.50 C327.58,129.17 328.70,126.82 329.50,125.00 C330.30,123.18 331.13,121.27 331.80,119.60 C332.47,117.93 332.97,116.13 333.50,115.00 C334.03,113.87 334.50,113.30 335.00,112.80 C335.50,112.30 336.07,112.47 336.50,112.00 C336.93,111.53 337.25,111.50 337.60,110.00 C337.95,108.50 338.23,105.08 338.60,103.00 C338.97,100.92 339.37,99.08 339.80,97.50 C340.23,95.92 340.33,94.48 341.20,93.50 C342.07,92.52 343.53,92.25 345.00,91.60 C346.47,90.95 347.50,90.10 350.00,89.60 C352.50,89.10 356.67,88.83 360.00,88.60 C363.33,88.37 366.67,88.17 370.00,88.20 C373.33,88.23 376.67,88.40 380.00,88.80 C383.33,89.20 386.67,90.30 390.00,90.60 C393.33,90.90 396.67,90.30 400.00,90.60 C403.33,90.90 406.67,91.93 410.00,92.40 C413.33,92.87 416.67,93.20 420.00,93.40 C423.33,93.60 426.67,93.63 430.00,93.60 C433.33,93.57 436.67,93.37 440.00,93.20 C443.33,93.03 446.67,92.87 450.00,92.60 C453.33,92.33 456.67,91.93 460.00,91.60 C463.33,91.27 466.67,90.93 470.00,90.60 C473.33,90.27 476.67,89.90 480.00,89.60 C483.33,89.30 486.67,89.03 490.00,88.80 C493.33,88.57 496.67,88.37 500.00,88.20 C503.33,88.03 507.50,87.85 510.00,87.80 C512.50,87.75 513.33,87.77 515.00,87.90 C516.67,88.03 518.33,88.22 520.00,88.60 C521.67,88.98 523.33,89.55 525.00,90.20 C526.67,90.85 528.67,91.53 530.00,92.50 C531.33,93.47 532.17,94.75 533.00,96.00 C533.83,97.25 534.42,98.50 535.00,100.00 C535.58,101.50 536.08,103.00 536.50,105.00 C536.92,107.00 537.27,109.17 537.50,112.00 C537.73,114.83 537.82,114.50 537.90,122.00 C537.98,129.50 537.98,151.17 538.00,157.00" fill="none" stroke="#008000" stroke-width="1.4" stroke-dasharray="5 2.2" stroke-dashoffset="0" stroke-linejoin="round"/>
<path d="M321.20,293.25 L321.20,14.00 L321.40,14.00 C321.40,31.33 321.20,98.67 321.40,118.00 C321.60,137.33 322.32,123.00 322.60,130.00 C322.88,137.00 322.97,150.33 323.10,160.00 C323.23,169.67 323.22,181.33 323.40,188.00 C323.58,194.67 323.85,196.33 324.20,200.00 C324.55,203.67 324.95,205.67 325.50,210.00 C326.05,214.33 326.83,221.00 327.50,226.00 C328.17,231.00 328.85,236.00 329.50,240.00 C330.15,244.00 331.08,248.33 331.40,250.00 C331.57,248.33 332.05,243.67 332.40,240.00 C332.75,236.33 333.13,232.67 333.50,228.00 C333.87,223.33 334.18,218.33 334.60,212.00 C335.02,205.67 335.52,200.33 336.00,190.00 C336.48,179.67 337.30,162.67 337.50,150.00 C337.70,137.33 337.20,120.33 337.20,114.00 C337.20,107.67 337.45,112.33 337.50,112.00 C337.55,115.00 337.67,123.67 337.80,130.00 C337.93,136.33 338.10,144.17 338.30,150.00 C338.50,155.83 338.87,156.67 339.00,165.00 C339.13,173.33 339.08,189.33 339.10,200.00 C339.12,210.67 339.10,224.17 339.10,229.00 C339.25,228.83 339.52,228.42 340.00,228.00 C340.48,227.58 341.17,226.83 342.00,226.50 C342.83,226.17 342.83,225.83 345.00,226.00 C347.17,226.17 351.67,227.00 355.00,227.50 C358.33,228.00 361.67,228.50 365.00,229.00 C368.33,229.50 371.67,230.08 375.00,230.50 C378.33,230.92 380.83,231.17 385.00,231.50 C389.17,231.83 395.00,232.32 400.00,232.50 C405.00,232.68 410.00,232.52 415.00,232.60 C420.00,232.68 425.83,232.80 430.00,233.00 C434.17,233.20 435.83,233.13 440.00,233.80 C444.17,234.47 450.00,235.93 455.00,237.00 C460.00,238.07 465.00,238.93 470.00,240.20 C475.00,241.47 480.00,243.03 485.00,244.60 C490.00,246.17 495.83,248.03 500.00,249.60 C504.17,251.17 506.67,252.27 510.00,254.00 C513.33,255.73 517.17,257.83 520.00,260.00 C522.83,262.17 525.17,264.83 527.00,267.00 C528.83,269.17 529.83,270.83 531.00,273.00 C532.17,275.17 533.17,277.67 534.00,280.00 C534.83,282.33 535.67,285.83 536.00,287.00" fill="none" stroke="#008000" stroke-width="1.4" stroke-dasharray="5 2.2" stroke-dashoffset="0" stroke-linejoin="round"/>
</g>
<path d="M324.9,110.5V200.0" stroke="#000" stroke-width="1.3"/>
<path d="M325.6,113.0V205.0" stroke="#000" stroke-width="1.3"/>
<path d="M335.6,102.2V210.0" stroke="#000" stroke-width="1.3"/>
<path d="M337.0,120.0V199.0" stroke="#000" stroke-width="1.3"/>
<path d="M327.7,136.0V218.0" stroke="#000" stroke-width="1.3"/>
<path d="M328.5,138.0V222.0" stroke="#000" stroke-width="1.3"/>
<path d="M329.3,146.0V225.0" stroke="#000" stroke-width="1.3"/>
<path d="M330.1,147.0V225.0" stroke="#000" stroke-width="1.3"/>
<path d="M330.9,147.0V225.0" stroke="#000" stroke-width="1.3"/>
<path d="M331.7,147.0V225.0" stroke="#000" stroke-width="1.3"/>
<path d="M332.5,146.0V225.0" stroke="#000" stroke-width="1.3"/>
<path d="M333.3,140.0V225.0" stroke="#000" stroke-width="1.3"/>
<path d="M324.2,112 L324.2,172 L324.6,195 L325.9,210 L327,225 L334.2,225 L335,210 L336,195 L336.4,172 L336.5,150 L336.5,103 L334.7,103 L334.7,134 L333,137.5 L329.4,137.5 L326.3,134 L326.3,112 Z" fill="#000"/>
<path d="M321.8,110.5H328.6" stroke="#000" stroke-width="0.9"/>
<path d="M321.8,112.6H328.6" stroke="#000" stroke-width="0.9"/>
<path d="M321.9,114.3H328.7" stroke="#000" stroke-width="0.9"/>
<path d="M322.0,116.2H328.8" stroke="#000" stroke-width="0.9"/>
<path d="M322.1,118.6H328.9" stroke="#000" stroke-width="0.9"/>
<path d="M331.6,102.5H339.8" stroke="#000" stroke-width="0.9"/>
<path d="M334.6,120.4H339.8" stroke="#000" stroke-width="0.9"/>
<path d="M328.8,130.5H333.2" stroke="#000" stroke-width="0.9"/>
<path d="M329.2,133.6H333.4" stroke="#000" stroke-width="0.9"/>
<path d="M320.6,193H324.5" stroke="#000" stroke-width="0.9"/>
<path d="M320.6,197.2H324.5" stroke="#000" stroke-width="0.9"/>
<path d="M335.5,182H339.4" stroke="#000" stroke-width="0.9"/>
<path d="M335,199H339.3" stroke="#000" stroke-width="0.9"/>
<path d="M322,205H326" stroke="#000" stroke-width="0.9"/>
<path d="M323,210H327" stroke="#000" stroke-width="0.9"/>
<path d="M324,215.5H328" stroke="#000" stroke-width="0.9"/>
<path d="M333.5,210H337.5" stroke="#000" stroke-width="0.9"/>
<path d="M333,218H337" stroke="#000" stroke-width="0.9"/>
<path d="M325,225.2H336.2" stroke="#000" stroke-width="0.9"/>
<path d="M372.6,103.2V183.2" stroke="#000000" stroke-width="1.35" fill="none"/>
<path d="M368.7,103.5H376.5" stroke="#000000" stroke-width="0.9" fill="none"/>
<path d="M368.7,183.5H376.5" stroke="#000000" stroke-width="0.9" fill="none"/>
<path d="M372.6,135.0V217.0" stroke="#000000" stroke-width="1.35" fill="none"/>
<path d="M368.7,135.5H376.5" stroke="#000000" stroke-width="0.9" fill="none"/>
<path d="M368.7,217.5H376.5" stroke="#000000" stroke-width="0.9" fill="none"/>
<path d="M372.6,135.0V183.2" stroke="#000" stroke-width="1.7"/>
<circle cx="372.6" cy="143.6" r="2.85" fill="#000000"/>
<circle cx="372.6" cy="174.6" r="2.85" fill="#000000"/>
<path d="M382.4,78.4V157.0" stroke="#000000" stroke-width="1.35" fill="none"/>
<path d="M378.5,78.5H386.3" stroke="#000000" stroke-width="0.9" fill="none"/>
<path d="M378.5,157.5H386.3" stroke="#000000" stroke-width="0.9" fill="none"/>
<circle cx="382.4" cy="117.0" r="2.85" fill="#000000"/>
<path d="M392.2,114.0V193.2" stroke="#000000" stroke-width="1.35" fill="none"/>
<path d="M388.3,114.5H396.1" stroke="#000000" stroke-width="0.9" fill="none"/>
<path d="M388.3,193.5H396.1" stroke="#000000" stroke-width="0.9" fill="none"/>
<path d="M392.2,126.4V208.0" stroke="#000000" stroke-width="1.35" fill="none"/>
<path d="M388.3,126.5H396.1" stroke="#000000" stroke-width="0.9" fill="none"/>
<path d="M388.3,208.5H396.1" stroke="#000000" stroke-width="0.9" fill="none"/>
<path d="M392.2,126.4V193.2" stroke="#000" stroke-width="1.7"/>
<circle cx="392.2" cy="152.0" r="2.85" fill="#000000"/>
<circle cx="392.2" cy="164.2" r="2.85" fill="#000000"/>
<path d="M418.4,91.4V170.0" stroke="#000000" stroke-width="1.35" fill="none"/>
<path d="M414.5,91.5H422.3" stroke="#000000" stroke-width="0.9" fill="none"/>
<path d="M414.5,170.5H422.3" stroke="#000000" stroke-width="0.9" fill="none"/>
<circle cx="418.4" cy="130.0" r="2.85" fill="#000000"/>
<path d="M445.4,96.0V174.0" stroke="#000000" stroke-width="1.35" fill="none"/>
<path d="M441.5,96.5H449.3" stroke="#000000" stroke-width="0.9" fill="none"/>
<path d="M441.5,174.5H449.3" stroke="#000000" stroke-width="0.9" fill="none"/>
<path d="M445.4,115.5V194.4" stroke="#000000" stroke-width="1.35" fill="none"/>
<path d="M441.5,115.5H449.3" stroke="#000000" stroke-width="0.9" fill="none"/>
<path d="M441.5,194.5H449.3" stroke="#000000" stroke-width="0.9" fill="none"/>
<path d="M445.4,115.5V174.0" stroke="#000" stroke-width="1.7"/>
<circle cx="445.4" cy="133.0" r="2.85" fill="#000000"/>
<circle cx="445.4" cy="151.5" r="2.85" fill="#000000"/>
<path d="M472.0,131.4V211.0" stroke="#000000" stroke-width="1.35" fill="none"/>
<path d="M468.1,131.5H475.9" stroke="#000000" stroke-width="0.9" fill="none"/>
<path d="M468.1,211.5H475.9" stroke="#000000" stroke-width="0.9" fill="none"/>
<circle cx="472.0" cy="170.0" r="2.85" fill="#000000"/>
<path d="M497.4,112.2V191.0" stroke="#000000" stroke-width="1.35" fill="none"/>
<path d="M493.5,112.5H501.3" stroke="#000000" stroke-width="0.9" fill="none"/>
<path d="M493.5,191.5H501.3" stroke="#000000" stroke-width="0.9" fill="none"/>
<path d="M497.4,125.0V204.0" stroke="#000000" stroke-width="1.35" fill="none"/>
<path d="M493.5,125.5H501.3" stroke="#000000" stroke-width="0.9" fill="none"/>
<path d="M493.5,204.5H501.3" stroke="#000000" stroke-width="0.9" fill="none"/>
<path d="M497.4,125.0V191.0" stroke="#000" stroke-width="1.7"/>
<circle cx="497.4" cy="151.0" r="2.85" fill="#000000"/>
<circle cx="497.4" cy="164.3" r="2.85" fill="#000000"/>
<path d="M522.4,140.4V220.0" stroke="#000000" stroke-width="1.35" fill="none"/>
<path d="M518.5,140.5H526.3" stroke="#000000" stroke-width="0.9" fill="none"/>
<path d="M518.5,220.5H526.3" stroke="#000000" stroke-width="0.9" fill="none"/>
<circle cx="522.4" cy="181.0" r="2.85" fill="#000000"/>
<path d="M42.20,287.25v2.7" stroke="#000" stroke-width="0.6"/>
<text transform="translate(42.2,301.3) scale(0.985,1)" text-anchor="middle" class="tk">0.0</text>
<path d="M53.07,287.25v1.5" stroke="#000" stroke-width="0.5"/>
<path d="M63.94,287.25v1.5" stroke="#000" stroke-width="0.5"/>
<path d="M74.81,287.25v1.5" stroke="#000" stroke-width="0.5"/>
<path d="M85.68,287.25v2.7" stroke="#000" stroke-width="0.6"/>
<text transform="translate(85.7,301.3) scale(0.985,1)" text-anchor="middle" class="tk">0.2</text>
<path d="M96.55,287.25v1.5" stroke="#000" stroke-width="0.5"/>
<path d="M107.42,287.25v1.5" stroke="#000" stroke-width="0.5"/>
<path d="M118.29,287.25v1.5" stroke="#000" stroke-width="0.5"/>
<path d="M129.16,287.25v2.7" stroke="#000" stroke-width="0.6"/>
<text transform="translate(129.2,301.3) scale(0.985,1)" text-anchor="middle" class="tk">0.4</text>
<path d="M140.03,287.25v1.5" stroke="#000" stroke-width="0.5"/>
<path d="M150.90,287.25v1.5" stroke="#000" stroke-width="0.5"/>
<path d="M161.77,287.25v1.5" stroke="#000" stroke-width="0.5"/>
<path d="M172.64,287.25v2.7" stroke="#000" stroke-width="0.6"/>
<text transform="translate(172.6,301.3) scale(0.985,1)" text-anchor="middle" class="tk">0.6</text>
<path d="M183.51,287.25v1.5" stroke="#000" stroke-width="0.5"/>
<path d="M194.38,287.25v1.5" stroke="#000" stroke-width="0.5"/>
<path d="M205.25,287.25v1.5" stroke="#000" stroke-width="0.5"/>
<path d="M216.12,287.25v2.7" stroke="#000" stroke-width="0.6"/>
<text transform="translate(216.1,301.3) scale(0.985,1)" text-anchor="middle" class="tk">0.8</text>
<path d="M226.99,287.25v1.5" stroke="#000" stroke-width="0.5"/>
<path d="M237.86,287.25v1.5" stroke="#000" stroke-width="0.5"/>
<path d="M248.73,287.25v1.5" stroke="#000" stroke-width="0.5"/>
<path d="M259.60,287.25v2.7" stroke="#000" stroke-width="0.6"/>
<text transform="translate(259.6,301.3) scale(0.985,1)" text-anchor="middle" class="tk">1.0</text>
<path d="M42.2,269.49h-1.5" stroke="#000" stroke-width="0.5"/>
<path d="M42.2,233.98h-1.5" stroke="#000" stroke-width="0.5"/>
<path d="M42.2,198.47h-2.7" stroke="#000" stroke-width="0.6"/>
<text transform="translate(36.6,202.2) scale(0.985,1)" text-anchor="end" class="tk">0.0</text>
<path d="M42.2,162.95h-1.5" stroke="#000" stroke-width="0.5"/>
<path d="M42.2,127.44h-1.5" stroke="#000" stroke-width="0.5"/>
<path d="M42.2,91.93h-1.5" stroke="#000" stroke-width="0.5"/>
<path d="M42.2,56.41h-1.5" stroke="#000" stroke-width="0.5"/>
<path d="M42.2,20.90h-2.7" stroke="#000" stroke-width="0.6"/>
<text transform="translate(36.6,24.6) scale(0.985,1)" text-anchor="end" class="tk">0.1</text>
<rect x="42.2" y="20.9" width="217.40000000000003" height="266.35" fill="none" stroke="#000" stroke-width="0.75"/>
<text transform="translate(150.9,314.7) scale(0.985,1)" text-anchor="middle" class="lb"><tspan font-style="italic">r</tspan>/<tspan font-style="italic">D</tspan></text>
<text transform="translate(11.7,154.2) rotate(-90) scale(0.985,1)" text-anchor="middle" class="lb"><tspan font-style="italic">C</tspan><tspan font-style="italic" font-size="7.8" dy="2.4">p</tspan></text>
<text transform="scale(1.0,1)" y="15.6" class="tt"><tspan x="95.50">Radial </tspan><tspan x="141.10" font-style="italic">C</tspan><tspan x="150.80" y="18.1" font-style="italic" font-size="9.3">p </tspan><tspan x="159.40" y="15.6">: </tspan><tspan x="166.50" font-style="italic">α </tspan><tspan x="178.10">= </tspan><tspan x="191.70">0</tspan><tspan x="202.10" y="13.7" font-size="9.6">°</tspan></text>
<path d="M320.70,287.25v2.7" stroke="#000" stroke-width="0.6"/>
<text transform="translate(320.7,301.3) scale(0.985,1)" text-anchor="middle" class="tk">0.0</text>
<path d="M331.57,287.25v1.5" stroke="#000" stroke-width="0.5"/>
<path d="M342.45,287.25v1.5" stroke="#000" stroke-width="0.5"/>
<path d="M353.32,287.25v1.5" stroke="#000" stroke-width="0.5"/>
<path d="M364.20,287.25v2.7" stroke="#000" stroke-width="0.6"/>
<text transform="translate(364.2,301.3) scale(0.985,1)" text-anchor="middle" class="tk">0.2</text>
<path d="M375.07,287.25v1.5" stroke="#000" stroke-width="0.5"/>
<path d="M385.95,287.25v1.5" stroke="#000" stroke-width="0.5"/>
<path d="M396.83,287.25v1.5" stroke="#000" stroke-width="0.5"/>
<path d="M407.70,287.25v2.7" stroke="#000" stroke-width="0.6"/>
<text transform="translate(407.7,301.3) scale(0.985,1)" text-anchor="middle" class="tk">0.4</text>
<path d="M418.58,287.25v1.5" stroke="#000" stroke-width="0.5"/>
<path d="M429.45,287.25v1.5" stroke="#000" stroke-width="0.5"/>
<path d="M440.33,287.25v1.5" stroke="#000" stroke-width="0.5"/>
<path d="M451.20,287.25v2.7" stroke="#000" stroke-width="0.6"/>
<text transform="translate(451.2,301.3) scale(0.985,1)" text-anchor="middle" class="tk">0.6</text>
<path d="M462.08,287.25v1.5" stroke="#000" stroke-width="0.5"/>
<path d="M472.95,287.25v1.5" stroke="#000" stroke-width="0.5"/>
<path d="M483.83,287.25v1.5" stroke="#000" stroke-width="0.5"/>
<path d="M494.70,287.25v2.7" stroke="#000" stroke-width="0.6"/>
<text transform="translate(494.7,301.3) scale(0.985,1)" text-anchor="middle" class="tk">0.8</text>
<path d="M505.58,287.25v1.5" stroke="#000" stroke-width="0.5"/>
<path d="M516.45,287.25v1.5" stroke="#000" stroke-width="0.5"/>
<path d="M527.33,287.25v1.5" stroke="#000" stroke-width="0.5"/>
<path d="M538.20,287.25v2.7" stroke="#000" stroke-width="0.6"/>
<text transform="translate(538.2,301.3) scale(0.985,1)" text-anchor="middle" class="tk">1.0</text>
<path d="M320.7,269.49h-1.5" stroke="#000" stroke-width="0.5"/>
<path d="M320.7,233.98h-1.5" stroke="#000" stroke-width="0.5"/>
<path d="M320.7,198.47h-2.7" stroke="#000" stroke-width="0.6"/>
<text transform="translate(315.1,202.2) scale(0.985,1)" text-anchor="end" class="tk">0.0</text>
<path d="M320.7,162.95h-1.5" stroke="#000" stroke-width="0.5"/>
<path d="M320.7,127.44h-1.5" stroke="#000" stroke-width="0.5"/>
<path d="M320.7,91.93h-1.5" stroke="#000" stroke-width="0.5"/>
<path d="M320.7,56.41h-1.5" stroke="#000" stroke-width="0.5"/>
<path d="M320.7,20.90h-2.7" stroke="#000" stroke-width="0.6"/>
<text transform="translate(315.1,24.6) scale(0.985,1)" text-anchor="end" class="tk">0.1</text>
<rect x="320.7" y="20.9" width="217.50000000000006" height="266.35" fill="none" stroke="#000" stroke-width="0.75"/>
<text transform="translate(429.5,314.7) scale(0.985,1)" text-anchor="middle" class="lb"><tspan font-style="italic">x</tspan>/<tspan font-style="italic">D</tspan></text>
<text transform="translate(290.2,154.2) rotate(-90) scale(0.985,1)" text-anchor="middle" class="lb"><tspan font-style="italic">C</tspan><tspan font-style="italic" font-size="7.8" dy="2.4">p</tspan></text>
<text transform="scale(1.0,1)" y="15.6" class="tt"><tspan x="378.60">Axial </tspan><tspan x="415.20" font-style="italic">C</tspan><tspan x="424.90" y="18.1" font-style="italic" font-size="9.3">p </tspan><tspan x="433.50" y="15.6">: </tspan><tspan x="440.60" font-style="italic">α </tspan><tspan x="452.20">= </tspan><tspan x="465.80">0</tspan><tspan x="476.20" y="13.7" font-size="9.6">°</tspan></text>
<rect x="89.5" y="23.9" width="166.7" height="20.9" rx="1.3" ry="1.3" fill="#fff" fill-opacity="0.8" stroke="#1a1a1a" stroke-width="0.9"/>
<path d="M91.7,29.4H105.3" stroke="#ff0000" stroke-width="1.2"/>
<path d="M91.7,39.0H105.3" stroke="#0000ff" stroke-width="1.2"/>
<path d="M173.8,29.4H187.3" stroke="#008000" stroke-width="1.2"/>
<circle cx="180.5" cy="39.0" r="2.6" fill="#000000"/>
<text transform="translate(109.7,31.8) scale(0.955,1)" class="lg">SA-Catris DES</text>
<text transform="translate(109.7,41.2) scale(0.955,1)" class="lg">BPANS <tspan x="24.45">(</tspan><tspan font-style="italic">f</tspan><tspan font-style="italic" font-size="4.8" dy="1.1">k </tspan><tspan dy="-1.1" x="33.61">= </tspan><tspan x="40.21">0.2)</tspan></text>
<text transform="translate(192.1,31.8) scale(0.955,1)" class="lg">BPANS CC <tspan x="35.86">(</tspan><tspan font-style="italic">f</tspan><tspan font-style="italic" font-size="4.8" dy="1.1">k </tspan><tspan dy="-1.1" x="45.03">= </tspan><tspan x="51.62">0.2)</tspan></text>
<text transform="translate(192.1,41.2) scale(0.955,1)" class="lg">Experiment</text>
</svg>
</body>
</html>
